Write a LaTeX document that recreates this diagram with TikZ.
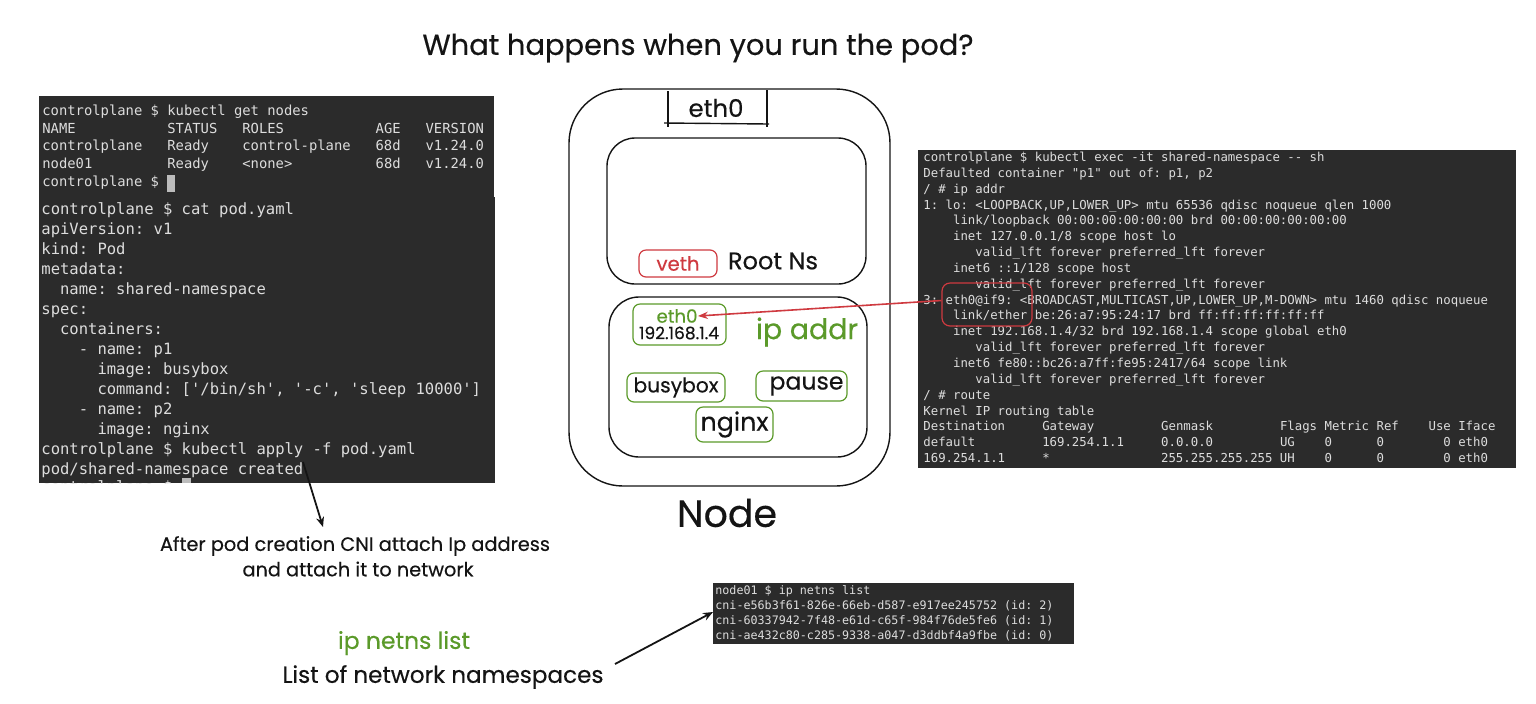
\documentclass[tikz,border=0pt]{standalone}
\usepackage{fontspec}
\setmainfont{Carlito}
\newfontfamily\hand[FakeBold=0.35]{Poppins}
\newfontfamily\term{DejaVu Sans Mono}
\usetikzlibrary{arrows.meta}
\definecolor{termbg}{HTML}{2B2B2B}
\definecolor{termfg}{HTML}{DDDDDD}
\definecolor{sgreen}{HTML}{5B9A2A}
\definecolor{sred}{HTML}{CF3A40}
\definecolor{ink}{HTML}{141414}
% hand-lettered text fitted to a width given in points
\newcommand\hs[2]{\resizebox{#1pt}{!}{\hand #2}}
\newcommand\tfont[2]{\term\fontsize{#1}{#2}\selectfont}
\newcommand\ms{\spaceskip=0.602em\relax\xspaceskip=\spaceskip}
\tikzset{
  x=0.5pt,y=-0.5pt,
  terminal/.style={fill=termbg,text=termfg,anchor=north west,inner ysep=0pt,align=left},
  sketch/.style={draw=ink,line width=0.7pt,line join=round},
  greenbox/.style={draw=sgreen,line width=0.6pt,rounded corners=3.5pt,inner sep=0pt,text=ink},
  redbox/.style={draw=sred,line width=0.6pt,rounded corners=3.5pt,inner sep=0pt},
  hw/.style={inner sep=0pt,text=ink},
  blackarrow/.style={draw=ink,line width=0.9pt,-{Stealth[length=5pt,width=4pt]}},
  redarrow/.style={draw=sred,line width=0.8pt,-{Stealth[length=5pt,width=3.6pt]}},
}
\begin{document}
\begin{tikzpicture}
\useasboundingbox (0,0) rectangle (1536,703);
\fill[white] (0,0) rectangle (1536,703);

\node[hw] (title) at (698,48) {\hs{275.5}{What happens when you run the pod?}};

% top-left terminal
\node[terminal,font=\tfont{6.92}{8.875},inner xsep=1.5pt,minimum width=227.5pt,minimum height=50.5pt,text width=224.5pt] (nodes) at (39,96) {\ms controlplane \$ kubectl get nodes\\
NAME~~~~~~~~~~~STATUS~~~ROLES~~~~~~~~~~~AGE~~~VERSION\\
controlplane~~~Ready~~~~control-plane~~~68d~~~v1.24.0\\
node01~~~~~~~~~Ready~~~~<none>~~~~~~~~~~68d~~~v1.24.0\\
controlplane \$};
\fill[termfg!85!black] (167,175) rectangle (175,192);

% pod terminal
\node[terminal,font=\tfont{7.77}{10},inner xsep=1pt,minimum width=228pt,minimum height=143pt,text width=226pt] (pod) at (39,197) {\ms controlplane \$ cat pod.yaml\\
apiVersion: v1\\
kind: Pod\\
metadata:\\
~~name: shared-namespace\\
spec:\\
~~containers:\\
~~~~- name: p1\\
~~~~~~image: busybox\\
~~~~~~command: ['/bin/sh', '-c', 'sleep 10000']\\
~~~~- name: p2\\
~~~~~~image: nginx\\
controlplane \$ kubectl apply -f pod.yaml\\
pod/shared-namespace created\par\vspace{0.4pt}};
\begin{scope}
\clip (39,476) rectangle (495,483);
\node[anchor=west,inner sep=0pt,text=termfg,font=\tfont{7.77}{10}] (podtail) at (41,488) {\ms controlplane \$};
\fill[termfg!85!black] (182,478) rectangle (191,483);
\end{scope}

% right terminal
\node[terminal,font=\tfont{6.17}{7.92},inner xsep=2.5pt,minimum width=299pt,minimum height=159pt,text width=294pt] (exec) at (918,150) {\ms controlplane \$ kubectl exec -it shared-namespace -- sh\\
Defaulted container "p1" out of: p1, p2\\
/ \# ip addr\\
1: lo: <LOOPBACK,UP,LOWER\_UP> mtu 65536 qdisc noqueue qlen 1000\\
~~~~link/loopback 00:00:00:00:00:00 brd 00:00:00:00:00:00\\
~~~~inet 127.0.0.1/8 scope host lo\\
~~~~~~~valid\_lft forever preferred\_lft forever\\
~~~~inet6 ::1/128 scope host\\
~~~~~~~valid\_lft forever preferred\_lft forever\\
3: eth0@if9: <BROADCAST,MULTICAST,UP,LOWER\_UP,M-DOWN> mtu 1460 qdisc noqueue\\
~~~~link/ether be:26:a7:95:24:17 brd ff:ff:ff:ff:ff:ff\\
~~~~inet 192.168.1.4/32 brd 192.168.1.4 scope global eth0\\
~~~~~~~valid\_lft forever preferred\_lft forever\\
~~~~inet6 fe80::bc26:a7ff:fe95:2417/64 scope link\\
~~~~~~~valid\_lft forever preferred\_lft forever\\
/ \# route\\
Kernel IP routing table\\
Destination~~~~~Gateway~~~~~~~~~Genmask~~~~~~~~~Flags Metric Ref~~~~Use Iface\\
default~~~~~~~~~169.254.1.1~~~~~0.0.0.0~~~~~~~~~UG~~~~0~~~~~~0~~~~~~~~0 eth0\\
169.254.1.1~~~~~*~~~~~~~~~~~~~~~255.255.255.255 UH~~~~0~~~~~~0~~~~~~~~0 eth0\par\vspace{2pt}};

% bottom terminal
\node[terminal,font=\tfont{5.85}{7.5},inner xsep=1pt,minimum width=180.5pt,minimum height=30.5pt,text width=178.5pt] (netns) at (713,583) {\ms node01 \$ ip netns list\\
cni-e56b3f61-826e-66eb-d587-e917ee245752 (id: 2)\\
cni-60337942-7f48-e61d-c65f-984f76de5fe6 (id: 1)\\
cni-ae432c80-c285-9338-a047-d3ddbf4a9fbe (id: 0)\par\vspace{1pt}};

% node sketch
\node[sketch,rounded corners=27pt,minimum width=160.5pt,minimum height=198.5pt] (outer) at (729.5,287.5) {};
\node[sketch,rounded corners=14pt,minimum width=129.5pt,minimum height=73pt] (rootns) at (736.5,211) {};
\node[sketch,rounded corners=15pt,minimum width=129pt,minimum height=80pt] (podns) at (738,377) {};
\draw[sketch] (668,91) -- (668,127);
\draw[sketch] (664,123) -- (769,124);
\draw[sketch] (767,90) -- (767,127);
\node[hw] (etht) at (716,108) {\hs{27.5}{eth0}};
\node[redbox,minimum width=39pt,minimum height=13.5pt,text=sred] (veth) at (678,263.5) {\hs{21.5}{veth}};
\node[hw] (rootlabel) at (773,261) {\hs{45}{Root Ns}};
\node[greenbox,minimum width=46.5pt,minimum height=20.5pt] (ethbox) at (679.5,324.5) {};
\node[hw,text=sgreen] (ethg) at (677,316) {\hs{20.5}{eth0}};
\node[hw] (ipv4) at (679,333) {\hs{40}{192.168.1.4}};
\node[hw,text=sgreen] (ipaddr) at (807,332) {\hs{51}{ip addr}};
\node[greenbox,minimum width=49pt,minimum height=14.5pt] (busy) at (676,387.5) {\hs{42.5}{busybox}};
\node[greenbox,minimum width=45.5pt,minimum height=15pt] (pause) at (801.5,386) {\hspace{5pt}\hs{37}{pause}};
\node[greenbox,minimum width=38.5pt,minimum height=17.5pt] (nginx) at (734.5,424.5) {\hs{34}{nginx}};
\node[hw] (nodelabel) at (727,513) {\hs{50}{Node}};

% red highlight and arrow
\node[redbox,rounded corners=4pt,minimum width=45pt,minimum height=21.5pt] (hl) at (987,304.5) {};
\draw[redarrow] ([yshift=2pt]hl.west) -- (ethg.east);

% annotations
\node[hw] (after) at (355,546) {\hs{195}{After pod creation CNI attach Ip address}};
\node[hw] (after2) at (358,569) {\hs{115.5}{and attach it to network}};
\coordinate (afterstart) at (303,462);
\coordinate (aftertip) at (323,527);
\draw[blackarrow] (afterstart) -- (aftertip);
\node[hw,text=sgreen] (ipnetns) at (404,643) {\hs{66}{ip netns list}};
\node[hw] (listns) at (443,677) {\hs{160.5}{List of network namespaces}};
\coordinate (liststart) at (615,664);
\coordinate (listtip) at (713,612);
\draw[blackarrow] (liststart) -- (listtip);
\end{tikzpicture}
\end{document}
